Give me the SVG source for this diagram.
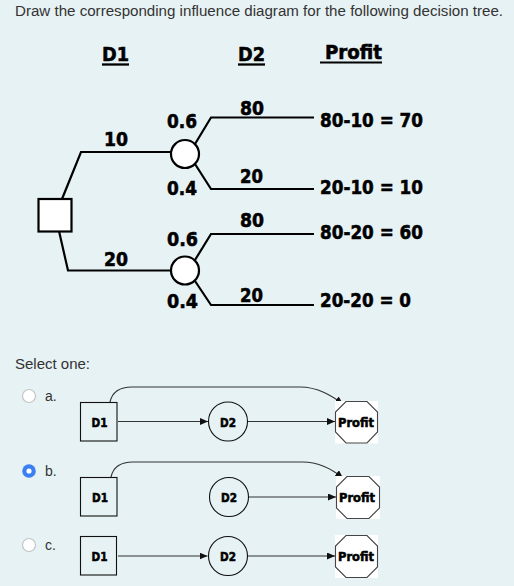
<svg xmlns="http://www.w3.org/2000/svg" width="514" height="586" viewBox="0 0 514 586">
<defs>
<style>
.q{font-family:"Liberation Sans",Arial,sans-serif;font-size:14px;fill:#333}
.t{font-family:"DejaVu Sans",Tahoma,sans-serif;font-weight:bold;font-size:20px;fill:#000;stroke:#000;stroke-width:0.6}
.h{font-family:"DejaVu Sans",Tahoma,sans-serif;font-weight:bold;font-size:20px;fill:#000;stroke:#000;stroke-width:0.6}
.n{font-family:"DejaVu Sans",Tahoma,sans-serif;font-weight:bold;font-size:13px;fill:#000;stroke:#000;stroke-width:0.6;text-anchor:middle}
.tl{fill:none;stroke:#000;stroke-width:2.2}
.tn{fill:#fff;stroke:#000;stroke-width:2.2}
.ol{fill:none;stroke:#333;stroke-width:1.2}
.sq{fill:none;stroke:#111;stroke-width:1.1}
.oc{fill:#fff;stroke:#444;stroke-width:1.1}
.rd{fill:#fff;stroke:#c4c4c4;stroke-width:1.2}
</style>
<marker id="ah" viewBox="0 0 8 7" refX="8" refY="3.5" markerWidth="8" markerHeight="7" markerUnits="userSpaceOnUse" orient="auto">
<path d="M0,0 L8,3.5 L0,7 z" fill="#111"/>
</marker>
</defs>
<rect x="0" y="0" width="514" height="586" fill="#e7f2f4"/>

<text class="q" x="15" y="16" textLength="488" lengthAdjust="spacingAndGlyphs">Draw the corresponding influence diagram for the following decision tree.</text>

<g id="headers">
<text class="h" x="102" y="61" textLength="27" lengthAdjust="spacingAndGlyphs">D1</text>
<line x1="102" y1="64.5" x2="129" y2="64.5" stroke="#000" stroke-width="2.3"/>
<text class="h" x="238" y="61" textLength="27" lengthAdjust="spacingAndGlyphs">D2</text>
<line x1="238" y1="64.5" x2="265" y2="64.5" stroke="#000" stroke-width="2.3"/>
<text class="h" x="325" y="59" textLength="57" lengthAdjust="spacingAndGlyphs">Profit</text>
<line x1="320" y1="62.5" x2="382" y2="62.5" stroke="#000" stroke-width="2"/>
</g>

<g id="tree-connectors">
<path class="tl" d="M62,199 L81,152 L172,152"/>
<path class="tl" d="M59,231 L68,270.5 L171,270.5"/>
<path class="tl" d="M195,144 L211,117.5 L314,117.5"/>
<path class="tl" d="M195,164 L211,189 L314,189"/>
<path class="tl" d="M195,260 L211,234 L314,234"/>
<path class="tl" d="M195,281 L211,305 L314,305"/>
</g>

<g id="tree-decision">
<rect class="tn" x="38.5" y="199" width="33" height="32.5" stroke-width="3"/>
</g>
<g id="tree-chance-1">
<circle class="tn" cx="185" cy="154" r="14"/>
</g>
<g id="tree-chance-2">
<circle class="tn" cx="185" cy="270.5" r="14"/>
</g>

<g id="tree-labels">
<text class="t" x="104" y="146" textLength="24" lengthAdjust="spacingAndGlyphs">10</text>
<text class="t" x="104" y="266" textLength="24" lengthAdjust="spacingAndGlyphs">20</text>
<text class="t" x="167" y="128" textLength="30" lengthAdjust="spacingAndGlyphs">0.6</text>
<text class="t" x="167" y="195" textLength="30" lengthAdjust="spacingAndGlyphs">0.4</text>
<text class="t" x="167" y="246" textLength="31" lengthAdjust="spacingAndGlyphs">0.6</text>
<text class="t" x="167" y="308" textLength="31" lengthAdjust="spacingAndGlyphs">0.4</text>
<text class="t" x="240" y="115" textLength="24" lengthAdjust="spacingAndGlyphs">80</text>
<text class="t" x="240" y="183" textLength="23" lengthAdjust="spacingAndGlyphs">20</text>
<text class="t" x="240" y="227" textLength="24" lengthAdjust="spacingAndGlyphs">80</text>
<text class="t" x="240" y="302" textLength="23" lengthAdjust="spacingAndGlyphs">20</text>
<text class="t" x="320" y="127" textLength="103" lengthAdjust="spacingAndGlyphs">80-10 = 70</text>
<text class="t" x="320" y="194" textLength="103" lengthAdjust="spacingAndGlyphs">20-10 = 10</text>
<text class="t" x="320" y="239" textLength="103" lengthAdjust="spacingAndGlyphs">80-20 = 60</text>
<text class="t" x="320" y="307" textLength="91" lengthAdjust="spacingAndGlyphs">20-20 = 0</text>
</g>

<text class="q" x="15" y="369" textLength="75" lengthAdjust="spacingAndGlyphs">Select one:</text>

<g id="radios">
<circle class="rd" cx="29" cy="396" r="6.5"/>
<text class="q" x="45" y="401">a.</text>
<circle cx="29" cy="471" r="6.8" fill="#3b7ff2"/>
<circle cx="29" cy="471" r="2.6" fill="#fff"/>
<text class="q" x="45" y="476">b.</text>
<circle class="rd" cx="29" cy="545" r="6.5"/>
<text class="q" x="45" y="550">c.</text>
</g>

<g id="option-connectors">
<path class="ol" d="M110,402 C112,393 118,387 132,387 L300,387 C318,387 332,396 343,404" marker-end="url(#ah)"/>
<path class="ol" d="M118,421.5 L208,421.5" marker-end="url(#ah)"/>
<path class="ol" d="M248,421.5 L335,421.5" marker-end="url(#ah)"/>
<path class="ol" d="M111,477 C113,468 119,462 133,462 L303,462 C320,462 333,470 343,478" marker-end="url(#ah)"/>
<path class="ol" d="M249,497 L336,497" marker-end="url(#ah)"/>
<path class="ol" d="M118,556 L207.5,556" marker-end="url(#ah)"/>
<path class="ol" d="M248,556 L335,556" marker-end="url(#ah)"/>
</g>

<g id="a-D1">
<rect class="sq" x="80.5" y="402.5" width="36.5" height="38.5"/>
<text class="n" x="99.5" y="426.5" textLength="16" lengthAdjust="spacingAndGlyphs">D1</text>
</g>
<g id="a-D2">
<circle class="sq" cx="228" cy="421.5" r="19.5"/>
<text class="n" x="228" y="426.5" textLength="16" lengthAdjust="spacingAndGlyphs">D2</text>
</g>
<g id="a-Profit">
<rect x="335" y="401" width="43" height="42.5" fill="#fff"/>
<polygon class="oc" points="346,401.5 367,401.5 377.5,412 377.5,432 367,443 346,443 335.5,432 335.5,412"/>
<text class="n" x="356" y="426.5" textLength="36" lengthAdjust="spacingAndGlyphs">Profit</text>
</g>

<g id="b-D1">
<rect class="sq" x="80.5" y="477.5" width="36.5" height="38.5"/>
<text class="n" x="100" y="501.5" textLength="16" lengthAdjust="spacingAndGlyphs">D1</text>
</g>
<g id="b-D2">
<circle class="sq" cx="229" cy="497" r="19.5"/>
<text class="n" x="229" y="501.5" textLength="16" lengthAdjust="spacingAndGlyphs">D2</text>
</g>
<g id="b-Profit">
<rect x="336" y="476" width="44" height="43" fill="#fff"/>
<polygon class="oc" points="347,476.5 369,476.5 379.5,487 379.5,508 369,518.5 347,518.5 336.5,508 336.5,487"/>
<text class="n" x="357" y="501.5" textLength="36" lengthAdjust="spacingAndGlyphs">Profit</text>
</g>

<g id="c-D1">
<rect class="sq" x="80.5" y="536.5" width="36" height="38.5"/>
<text class="n" x="99.5" y="560.5" textLength="16" lengthAdjust="spacingAndGlyphs">D1</text>
</g>
<g id="c-D2">
<circle class="sq" cx="228" cy="556" r="19.5"/>
<text class="n" x="228" y="560.5" textLength="16" lengthAdjust="spacingAndGlyphs">D2</text>
</g>
<g id="c-Profit">
<rect x="335" y="535" width="43" height="43" fill="#fff"/>
<polygon class="oc" points="346,535.5 367,535.5 377.5,546 377.5,567 367,577.5 346,577.5 335.5,567 335.5,546"/>
<text class="n" x="356" y="560.5" textLength="36" lengthAdjust="spacingAndGlyphs">Profit</text>
</g>
</svg>
